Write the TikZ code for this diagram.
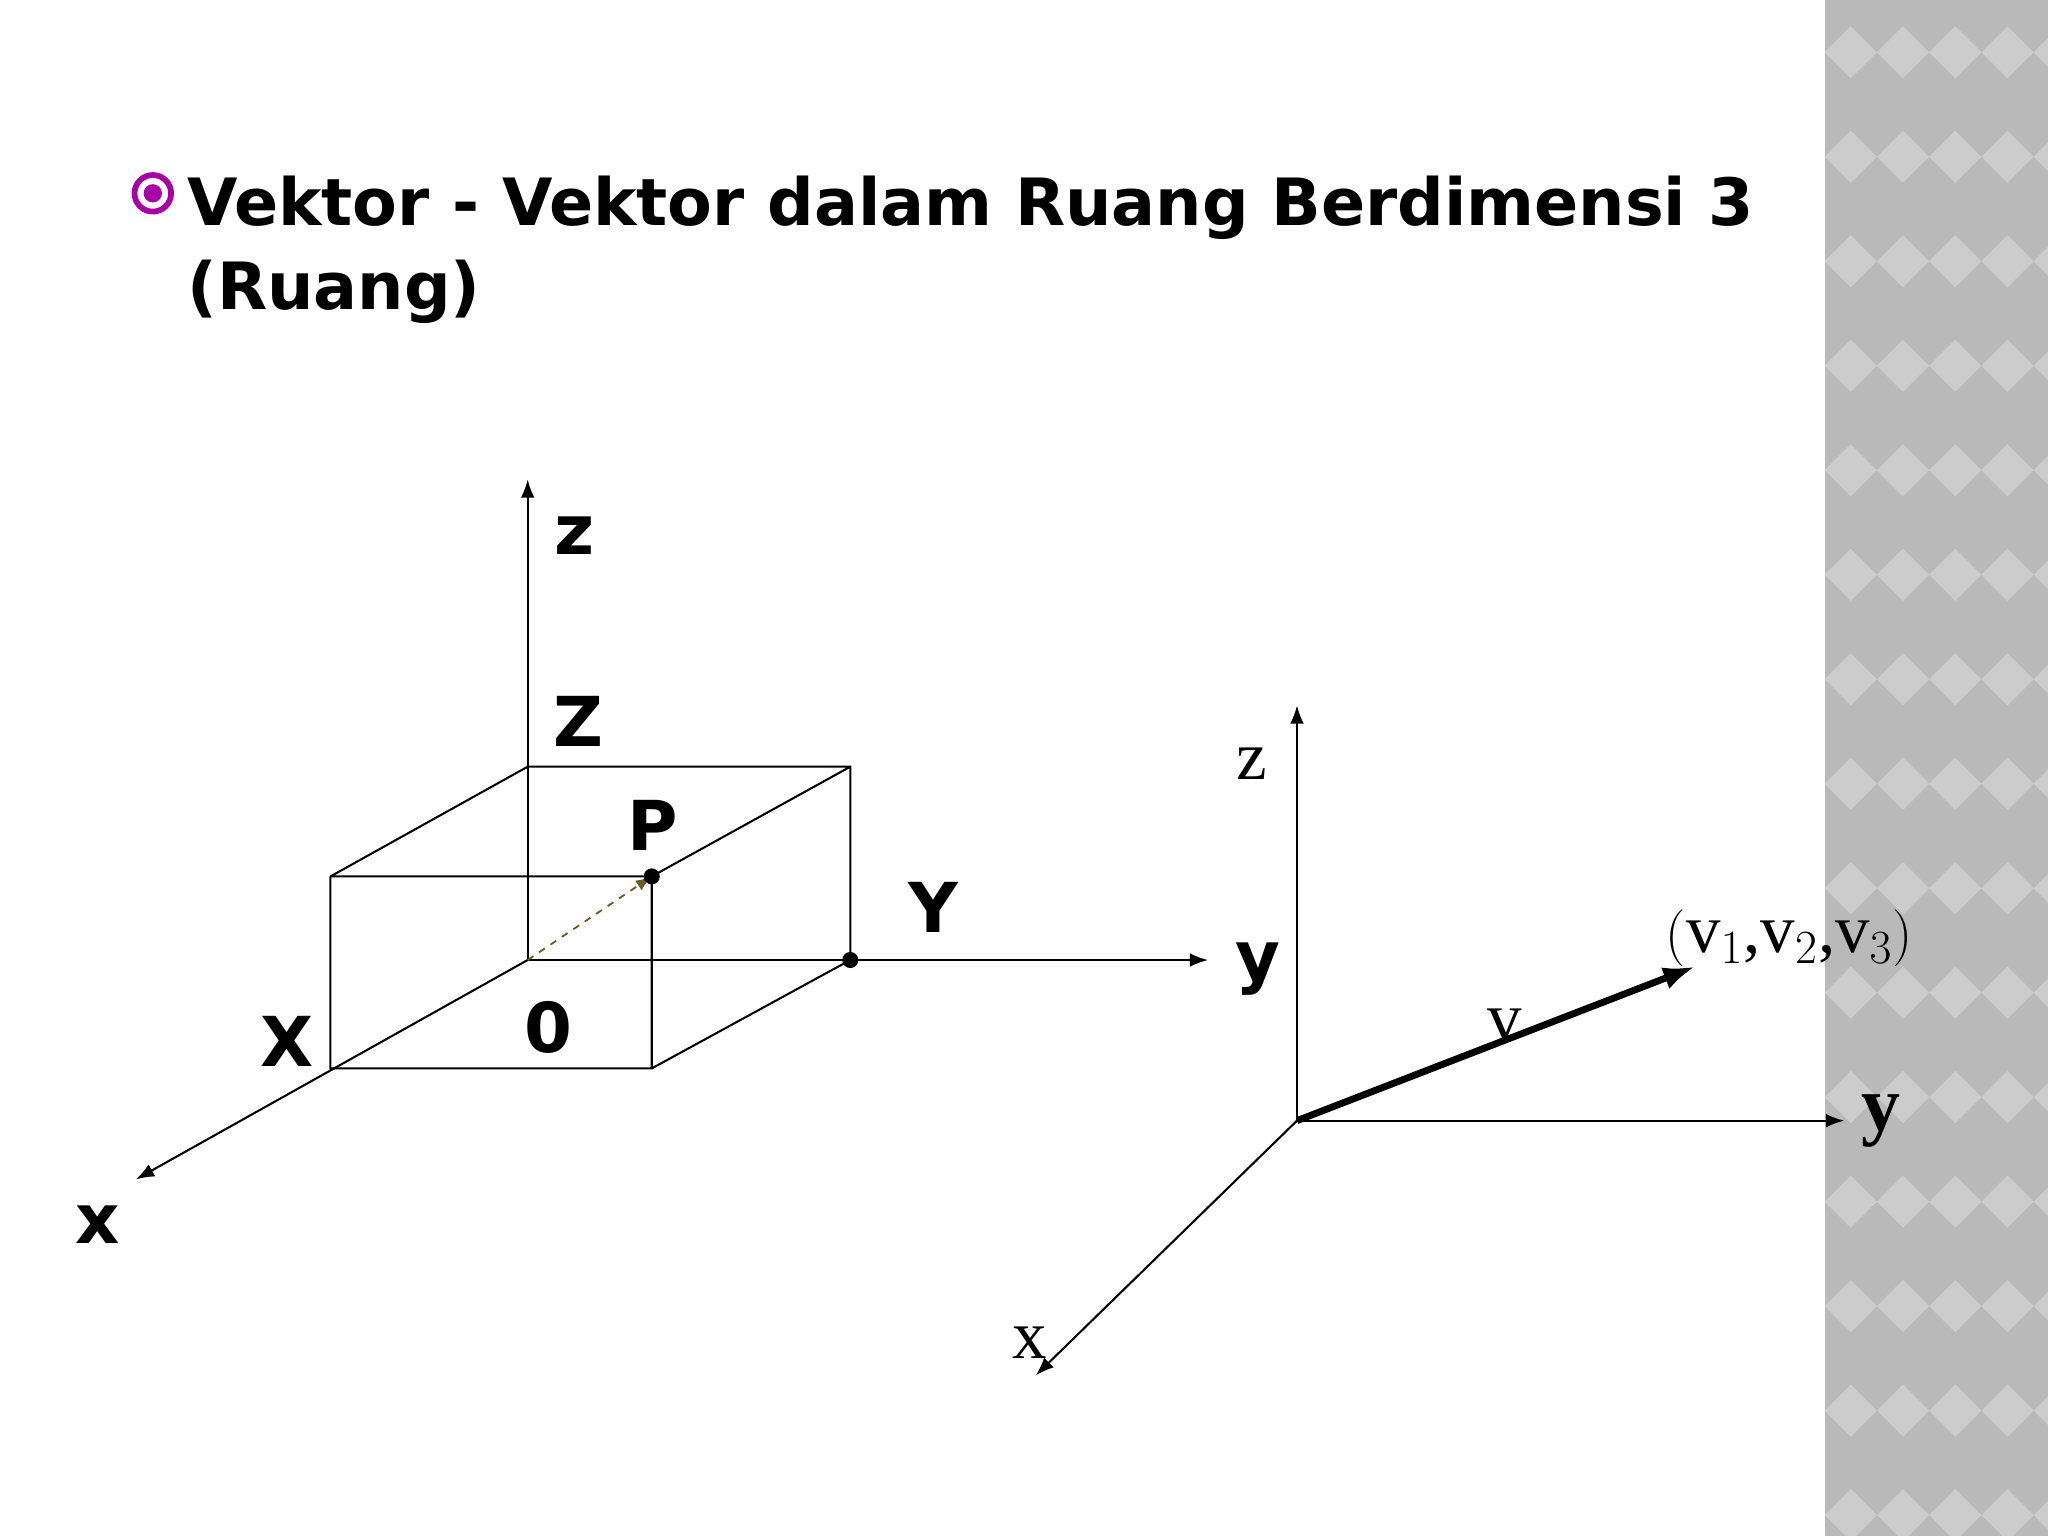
\documentclass[tikz,border=0pt]{standalone}
\usetikzlibrary{arrows.meta}
\usepackage{fontspec}
\setmainfont{Liberation Serif}
\setsansfont{DejaVu Sans}
\begin{document}
\begin{tikzpicture}[x=0.02cm,y=-0.02cm,
  ln/.style={line width=0.9pt},
  ax/.style={line width=0.9pt,-{Latex[length=8pt,width=6pt]}},
  lb/.style={font=\sffamily\bfseries\fontsize{30}{30}\selectfont},
  sl/.style={font=\rmfamily\fontsize{30}{30}\selectfont},
  dot/.style={circle,fill=black,inner sep=0pt,minimum size=7pt}]
\useasboundingbox (0,0) rectangle (1568,1176);
\fill[gray!55] (1397,0) rectangle (1568,1176);
\foreach \i in {0,...,14}{\foreach \j in {0,...,4}{
  \fill[gray!40] (1397+\j*40,\i*80+40) -- ++(20,-20) -- ++(20,20) -- ++(-20,20) -- cycle;}}
% title
\draw[line width=2.5pt,color=violet!70!magenta] (117,148) circle (14);
\fill[violet!70!magenta] (117,148) circle (7);
\node[anchor=west,inner sep=0pt] (t) at (143,192) {\resizebox{24cm}{!}{\sffamily\bfseries\fontsize{34}{44}\selectfont\begin{tabular}{@{}l@{}}Vektor - Vektor dalam Ruang Berdimensi 3\\(Ruang)\end{tabular}}};
% left diagram
\coordinate (O) at (404,735);
\coordinate (zt) at (404,367); \coordinate (yt) at (925,735); \coordinate (xt) at (104,903);
\coordinate (a) at (404,587); \coordinate (b) at (651,587); \coordinate (c) at (253,671);
\coordinate (d) at (499,671); \coordinate (e) at (253,818); \coordinate (f) at (499,818);
\coordinate (g) at (651,735);
\draw[ax] (O)--(zt); \draw[ax] (O)--(yt); \draw[ax] (O)--(xt);
\draw[ln] (c)--(a)--(b)--(g) (d)--(b) (c)--(d)--(f)--(e)--(c) (f)--(g);
\draw[dashed,olive!60!black,-{Latex[length=7pt,width=5pt]},line width=0.8pt] (O)--(d);
\node[dot] (P) at (d) {}; \node[dot] (Yd) at (g) {};
\node[lb] (lz) at (440,410) {z};
\node[lb] (lZ) at (443,552) {Z};
\node[lb] (lP) at (500,632) {P};
\node[lb] (lY) at (715,695) {Y};
\node[lb] (ly) at (963,742) {y};
\node[lb] (lX) at (220,797) {X};
\node[lb] (l0) at (420,787) {0};
\node[lb] (lx) at (75,938) {x};
% right diagram
\coordinate (O2) at (993,858);
\draw[ax] (O2)--(993,540); \draw[ax] (O2)--(1412,858); \draw[ax] (O2)--(793,1053);
\draw[line width=3pt,-{Latex[length=14pt,width=10pt]}] (O2)--(1298,740);
\node[sl] (rz) at (958,585) {z};
\node[sl,font=\rmfamily\bfseries\fontsize{34}{34}\selectfont] (ry) at (1440,858) {y};
\node[sl] (rx) at (788,1028) {x};
\node[sl] (rv) at (1152,785) {v};
\node[sl] (rp) at (1370,718) {$\bigl($v$_1$,v$_2$,v$_3\bigr)$};
\end{tikzpicture}
\end{document}
